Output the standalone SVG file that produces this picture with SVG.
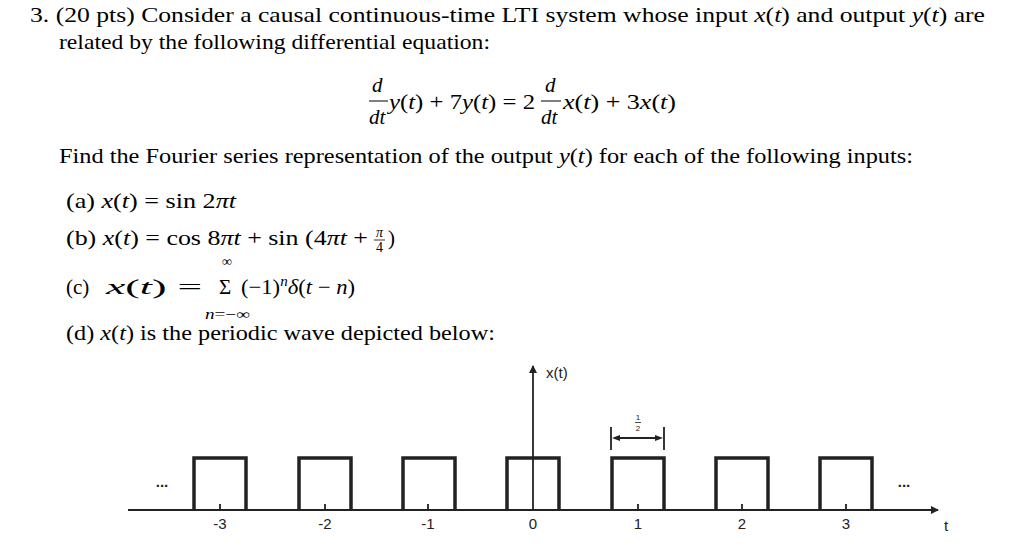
<svg xmlns="http://www.w3.org/2000/svg" width="1024" height="555" viewBox="0 0 1024 555">
<style>
.t{font-family:"Liberation Serif","Times New Roman",serif;font-size:21px;fill:#000}
.s{font-family:"Liberation Serif",serif;font-size:14px;fill:#000}
.g{font-family:"Liberation Sans","Open Sans",sans-serif;font-size:15px;fill:#222}
.f{font-family:"Liberation Sans","Open Sans",sans-serif;font-size:8px;fill:#222}
.p{fill:none;stroke:#222;stroke-width:3.5}
.a{stroke:#222;stroke-width:1.8;fill:none}
</style>
<defs><marker id="ah" markerWidth="8" markerHeight="8" refX="7" refY="4" orient="auto" markerUnits="userSpaceOnUse"><path d="M0,0L8,4L0,8z" fill="#222"/></marker></defs>
<rect width="1024" height="555" fill="#fff"/>
<text class="t" x="30" y="22" textLength="955" lengthAdjust="spacingAndGlyphs">3. (20 pts) Consider a causal continuous-time LTI system whose input <tspan font-style="italic">x</tspan>(<tspan font-style="italic">t</tspan>) and output <tspan font-style="italic">y</tspan>(<tspan font-style="italic">t</tspan>) are</text>
<text class="t" x="59" y="49" textLength="431" lengthAdjust="spacingAndGlyphs">related by the following differential equation:</text>
<text class="t" x="372" y="92" font-style="italic">d</text>
<line x1="369" y1="101" x2="388" y2="101" stroke="#000" stroke-width="1"/>
<text class="t" x="369" y="124" font-style="italic">dt</text>
<text class="t" x="389" y="109" textLength="146" lengthAdjust="spacingAndGlyphs"><tspan font-style="italic">y</tspan>(<tspan font-style="italic">t</tspan>) + 7<tspan font-style="italic">y</tspan>(<tspan font-style="italic">t</tspan>) = 2</text>
<text class="t" x="545" y="92" font-style="italic">d</text>
<line x1="541" y1="101" x2="561" y2="101" stroke="#000" stroke-width="1"/>
<text class="t" x="541" y="124" font-style="italic">dt</text>
<text class="t" x="563" y="109" textLength="113" lengthAdjust="spacingAndGlyphs"><tspan font-style="italic">x</tspan>(<tspan font-style="italic">t</tspan>) + 3<tspan font-style="italic">x</tspan>(<tspan font-style="italic">t</tspan>)</text>
<text class="t" x="59" y="163" textLength="854" lengthAdjust="spacingAndGlyphs">Find the Fourier series representation of the output <tspan font-style="italic">y</tspan>(<tspan font-style="italic">t</tspan>) for each of the following inputs:</text>
<text class="t" x="66" y="208" textLength="170" lengthAdjust="spacingAndGlyphs">(a)  <tspan font-style="italic">x</tspan>(<tspan font-style="italic">t</tspan>) = sin 2<tspan font-style="italic">πt</tspan></text>
<text class="t" x="66" y="245" textLength="302" lengthAdjust="spacingAndGlyphs">(b)  <tspan font-style="italic">x</tspan>(<tspan font-style="italic">t</tspan>) = cos 8<tspan font-style="italic">πt</tspan> + sin (4<tspan font-style="italic">πt</tspan> +</text>
<text class="s" x="376" y="237" font-style="italic">π</text>
<line x1="374" y1="240" x2="385" y2="240" stroke="#000" stroke-width="0.8"/>
<text class="s" x="376" y="252">4</text>
<text class="t" x="388" y="245">)</text>
<text class="t" x="66" y="294">(c)</text>
<text class="t" x="106" y="294" textLength="96" lengthAdjust="spacingAndGlyphs"><tspan font-style="italic">x</tspan>(<tspan font-style="italic">t</tspan>) =</text>
<text class="t" x="219" y="294">Σ</text>
<text class="s" x="222" y="266">∞</text>
<text class="s" x="205" y="319" textLength="45" lengthAdjust="spacingAndGlyphs"><tspan font-style="italic">n</tspan>=−∞</text>
<text class="t" x="241" y="294" textLength="114" lengthAdjust="spacingAndGlyphs">(−1)<tspan font-size="14" dy="-8" font-style="italic">n</tspan><tspan dy="8" font-style="italic">δ</tspan>(<tspan font-style="italic">t</tspan> − <tspan font-style="italic">n</tspan>)</text>
<text class="t" x="66" y="340" textLength="429" lengthAdjust="spacingAndGlyphs">(d)  <tspan font-style="italic">x</tspan>(<tspan font-style="italic">t</tspan>) is the periodic wave depicted below:</text>
<g id="plot">
<line class="a" x1="128" y1="510" x2="938" y2="510" marker-end="url(#ah)"/>
<line class="a" x1="533" y1="510" x2="533" y2="366" marker-end="url(#ah)"/>
<path class="p" d="M194,510V458H246V510M299,510V458H351V510M403,510V458H455V510M507,510V458H559V510M612,510V458H664V510M716,510V458H768V510M820,510V458H872V510"/>
<path class="a" d="M220,510v-6M325,510v-6M428,510v-6M638,510v-6M742,510v-6M846,510v-6" stroke-width="1.5"/>
<line class="a" x1="611" y1="427" x2="611" y2="450" stroke-width="1.5"/>
<line class="a" x1="664" y1="427" x2="664" y2="450" stroke-width="1.5"/>
<line class="a" x1="618" y1="438" x2="657" y2="438" stroke-width="1.5"/>
<path d="M612,438l8,-3v6zM663,438l-8,-3v6z" fill="#222"/>
<text class="f" x="638" y="420" text-anchor="middle">1</text>
<line x1="635" y1="422.5" x2="641" y2="422.5" stroke="#222" stroke-width="0.8"/>
<text class="f" x="638" y="431" text-anchor="middle">2</text>
<text class="g" x="546" y="378">x(t)</text>
<text class="g" x="162" y="487" font-weight="bold" text-anchor="middle">...</text>
<text class="g" x="904" y="487" font-weight="bold" text-anchor="middle">...</text>
<g text-anchor="middle"><text class="g" x="220" y="529">-3</text><text class="g" x="325" y="529">-2</text><text class="g" x="428" y="529">-1</text><text class="g" x="533" y="529">0</text><text class="g" x="638" y="529">1</text><text class="g" x="742" y="529">2</text><text class="g" x="846" y="529">3</text><text class="g" x="946" y="531" font-size="17">t</text></g>
</g>
</svg>
